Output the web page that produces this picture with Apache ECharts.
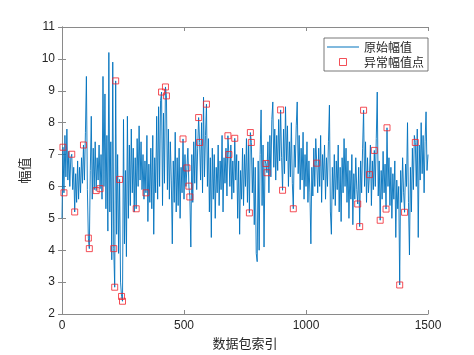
<!DOCTYPE html>
<html><head><meta charset="utf-8">
<script src="https://cdn.jsdelivr.net/npm/echarts@6/dist/echarts.min.js"></script>
<style>html,body{margin:0;padding:0;background:#fff}#c{width:474px;height:355px}</style>
</head><body><div id="c"></div>
<script>
// sample step of the raw amplitude series (packet index = i * step)
const step = 4;
// raw amplitude (packet index 0,4,8,...,1500)
const amp = [
5.0,7.23,5.80,7.6,6.3,7.8,6.2,7.1,6.0,6.9,
7.01,5.9,6.6,5.20,6.4,5.5,6.8,5.6,6.6,5.8,
6.9,6.1,7.30,6.2,7.7,9.45,5.9,4.38,4.05,6.5,
8.2,5.6,7.2,5.9,7.4,5.87,6.9,6.2,7.3,5.93,
7.0,5.6,9.45,6.0,8.9,5.3,7.6,4.6,10.2,5.2,
7.4,3.7,9.9,4.05,2.84,9.31,4.5,7.0,3.9,6.22,
3.0,2.55,2.40,8.1,4.2,6.5,3.8,8.2,5.0,7.3,
5.4,7.8,5.8,7.2,5.2,6.9,5.30,7.5,6.0,7.9,
6.2,7.4,5.9,7.0,5.6,6.8,5.80,7.6,4.9,6.7,
5.5,7.2,5.3,7.6,4.5,6.9,5.8,8.2,5.6,8.5,
6.0,8.7,8.96,5.4,8.3,6.1,9.12,8.84,5.9,7.8,
5.6,7.4,6.2,4.2,6.8,5.5,7.7,5.2,6.9,5.4,
7.2,5.0,6.6,5.8,7.49,5.6,7.0,6.0,6.58,7.2,
6.01,5.67,4.1,7.0,5.5,7.4,6.1,7.8,5.9,7.2,
8.16,7.38,6.2,8.0,5.8,8.8,6.3,7.6,8.58,6.0,
7.5,5.2,6.9,4.4,7.2,5.6,7.0,5.0,6.6,5.8,
7.3,5.4,6.8,5.9,7.6,5.2,6.9,6.1,7.2,5.7,
7.59,7.00,6.0,7.3,5.6,6.8,5.8,7.51,6.2,7.0,
5.0,6.8,4.5,6.5,5.6,7.2,5.4,7.0,6.0,7.5,
5.5,7.3,5.17,7.69,7.38,5.8,6.9,4.8,6.6,3.9,
3.64,6.8,4.0,7.0,8.4,5.4,7.3,4.1,6.8,6.72,
6.43,7.4,5.8,7.6,6.3,8.1,8.65,6.6,7.8,6.2,
7.6,6.5,8.1,6.8,8.40,6.9,5.88,7.8,6.4,8.5,
6.8,7.9,6.0,7.4,6.3,8.0,6.1,5.30,7.3,6.6,
7.9,8.65,6.4,7.6,5.9,7.2,6.2,7.7,5.6,7.0,
6.0,7.4,5.5,6.8,5.8,4.2,6.6,5.7,7.2,6.0,
7.5,6.73,5.8,7.2,6.0,7.6,5.5,7.0,6.2,7.3,
5.6,6.9,6.0,7.4,8.55,5.2,4.5,6.6,5.6,7.0,
5.4,6.8,5.9,7.3,5.2,6.6,4.9,6.9,5.8,7.5,
6.0,7.2,5.5,6.8,5.0,6.5,5.6,7.0,4.8,6.4,
5.6,6.9,5.9,5.45,6.6,4.74,6.8,5.8,7.2,8.39,
6.0,7.4,5.5,6.9,5.8,6.37,7.3,5.4,6.8,5.9,
7.13,6.0,7.5,8.96,5.7,6.8,4.94,6.5,5.6,7.1,
5.8,6.7,5.29,7.84,6.0,6.9,5.4,6.6,5.0,6.4,
5.6,6.8,4.4,6.2,5.3,6.0,2.91,6.5,5.5,6.9,
5.8,5.19,6.7,6.0,8.0,5.5,3.85,6.6,5.2,7.2,
5.9,7.6,7.38,6.0,7.8,4.4,7.3,6.2,8.0,6.4,
7.6,5.8,7.4,8.34,6.5,7.0
];
// anomalous amplitude points
const anomX = [4,8,40,52,88,108,112,140,156,212,216,220,236,244,248,304,344,408,424,428,496,512,520,524,560,564,592,680,684,708,768,772,776,836,840,896,904,948,1044,1212,1220,1236,1260,1280,1304,1328,1332,1384,1404,1448];
const anomY = [7.23,5.80,7.01,5.20,7.30,4.38,4.05,5.87,5.93,4.05,2.84,9.31,6.22,2.55,2.40,5.30,5.80,8.96,9.12,8.84,7.49,6.58,6.01,5.67,8.16,7.38,8.58,7.59,7.00,7.51,5.17,7.69,7.38,6.72,6.43,8.40,5.88,5.30,6.73,5.45,4.74,8.39,6.37,7.13,4.94,5.29,7.84,2.91,5.19,7.38];
const xTicks = [0,500,1000,1500];
const yTicks = [2,3,4,5,6,7,8,9,10,11];
const seriesNames = ['原始幅值','异常幅值点'];
const xName = '数据包索引';
const yName = '幅值';

const lineData = amp.map((v,i)=>[i*step, v]);
const anomData = anomX.map((x,i)=>[x, anomY[i]]);

const axisColor = '#8a8a8a';
const txt = '#262626';
const base = {
  min: 0, splitLine:{show:false},
  axisLine:{show:true,lineStyle:{color:axisColor,width:1}},
  axisTick:{show:true,inside:true,length:4,lineStyle:{color:axisColor}},
  axisLabel:{color:txt,fontSize:12,fontFamily:'Liberation Sans, Arial, sans-serif'}
};
const chart = echarts.init(document.getElementById('c'), null, {renderer:'canvas'});
chart.setOption({
  animation:false,
  backgroundColor:'#fff',
  grid:{left:62, top:27, right:46, bottom:41},
  legend:{
    orient:'vertical', left:324, top:38,
    backgroundColor:'#fff', borderColor:'#555', borderWidth:0.8,
    padding:[3,4,3,3], itemGap:3, itemWidth:32, itemHeight:7,
    symbolKeepAspect:true,
    textStyle:{fontFamily:'Noto Sans CJK SC', fontSize:12, color:txt},
    data:[
      {name:seriesNames[0], icon:'path://M0,0L32,0L32,1L0,1Z',
       itemStyle:{color:'#0072BD', borderWidth:0}},
      {name:seriesNames[1], icon:'path://M0,0L10,0L10,10L0,10Z',
       itemStyle:{color:'rgba(0,0,0,0)', borderColor:'#f0232d', borderWidth:1}}
    ]
  },
  xAxis:[
    Object.assign({}, base, {type:'value', max:1500, interval:500, position:'bottom',
      name:xName, nameLocation:'middle', nameGap:22,
      nameTextStyle:{fontFamily:'Noto Sans CJK SC', fontSize:13, color:txt},
      axisLabel:Object.assign({}, base.axisLabel, {margin:6, formatter:v=>xTicks.includes(v)?String(v):''})}),
    Object.assign({}, base, {type:'value', max:1500, interval:500, position:'top', axisLabel:{show:false}})
  ],
  yAxis:[
    Object.assign({}, base, {type:'value', min:2, max:11, interval:1, position:'left',
      name:yName, nameLocation:'middle', nameGap:28, nameRotate:90,
      nameTextStyle:{fontFamily:'Noto Sans CJK SC', fontSize:13, color:txt},
      axisLabel:Object.assign({}, base.axisLabel, {margin:7, formatter:v=>yTicks.includes(v)?String(v):''})}),
    Object.assign({}, base, {type:'value', min:2, max:11, interval:1, position:'right', axisLabel:{show:false}})
  ],
  series:[
    {name:seriesNames[0], type:'line', data:lineData, symbol:'none', showSymbol:false,
     lineStyle:{color:'#0072BD', width:0.9}, itemStyle:{color:'#0072BD'}, z:2, silent:true},
    {name:seriesNames[1], type:'scatter', data:anomData, symbol:'rect', symbolSize:6,
     itemStyle:{color:'rgba(0,0,0,0)', borderColor:'#f0232d', borderWidth:1}, z:3}
  ]
});
</script></body></html>
